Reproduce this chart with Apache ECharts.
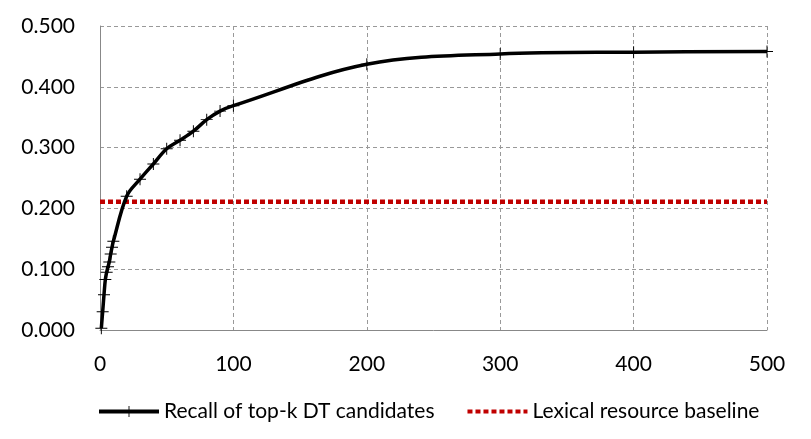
<!DOCTYPE html>
<html>
<head>
<meta charset="utf-8">
<script src="https://cdn.jsdelivr.net/npm/echarts@6/dist/echarts.min.js"></script>
<style>
  html, body { margin: 0; padding: 0; background: #fff; }
  #chart { width: 811px; height: 439px; }
</style>
</head>
<body>
<div id="chart"></div>
<script>
// top-k values and recall
const kValues = [1, 2, 3, 4, 5, 6, 7, 8, 9, 10, 20, 30, 40, 50, 60, 70, 80, 90, 100, 200, 300, 400, 500];
const recall = [0.003, 0.030, 0.058, 0.083, 0.095, 0.104, 0.112, 0.125, 0.136, 0.146,
  0.220, 0.248, 0.273, 0.298, 0.312, 0.327, 0.346, 0.360, 0.369, 0.437, 0.454, 0.457, 0.458];
const baselineX = [0, 500];
const baselineY = [0.211, 0.211];
const names = ["Recall of top-k DT candidates", "Lexical resource baseline"];

const font = "Lato, 'Liberation Sans', sans-serif";
const cross = "path://M-0.08,-1h0.16v2h-0.16zM-1,-0.08h2v0.16h-2z";

const chart = echarts.init(document.getElementById("chart"));
chart.setOption({
  animation: false,
  grid: { left: 100, right: 44, top: 26, bottom: 109 },
  legend: {
    top: 396,
    left: 92,
    itemWidth: 60,
    itemHeight: 14,
    itemGap: 31,
    textStyle: { fontFamily: font, fontSize: 21, color: "#000" },
    data: [
      { name: names[0], lineStyle: { width: 4 } },
      { name: names[1], itemStyle: { opacity: 0 }, lineStyle: { width: 4, type: [5, 3] } }
    ]
  },
  xAxis: {
    type: "value",
    min: 0, max: 500, interval: 100,
    axisLine: { lineStyle: { color: "#888" } },
    axisTick: { show: false },
    axisLabel: { fontFamily: font, fontSize: 21, color: "#000", margin: 24 },
    splitLine: { lineStyle: { color: "#999", type: [4, 3] } }
  },
  yAxis: {
    type: "value",
    min: 0, max: 0.5, interval: 0.1,
    axisLine: { show: true, lineStyle: { color: "#888" } },
    axisTick: { show: false },
    axisLabel: { fontFamily: font, fontSize: 21, color: "#000", margin: 25,
      formatter: (v) => v.toFixed(3) },
    splitLine: { lineStyle: { color: "#999", type: [4, 3] } }
  },
  series: [
    {
      name: names[1],
      type: "line",
      data: baselineX.map((x, i) => [x, baselineY[i]]),
      symbol: "none",
      lineStyle: { color: "#c00000", width: 4.5, type: [5, 3] },
      itemStyle: { color: "#c00000" },
      z: 2
    },
    {
      name: names[0],
      type: "line",
      data: kValues.map((k, i) => [k, recall[i]]),
      smooth: 0.35,
      symbol: cross,
      symbolSize: 12,
      showSymbol: true,
      lineStyle: { color: "#000", width: 3.5 },
      itemStyle: { color: "#000" },
      z: 3
    }
  ]
});
</script>
</body>
</html>
